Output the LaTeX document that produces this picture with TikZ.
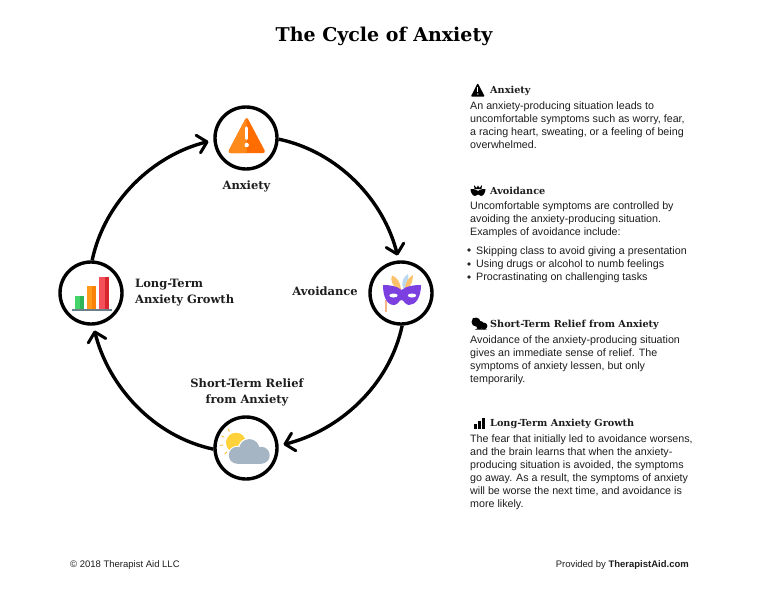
\documentclass[tikz,border=0pt]{standalone}
\usepackage{fontspec}
\setmainfont{Liberation Sans}
\newfontfamily\slabfont[BoldFont={DejaVu Serif Bold}]{DejaVu Serif}
\usetikzlibrary{arrows.meta,calc}
\definecolor{inkc}{HTML}{1E1E1E}
\definecolor{orgA}{HTML}{FF8A1C}
\definecolor{orgB}{HTML}{FF6C00}
\definecolor{maskc}{HTML}{7C3FE0}
\definecolor{sunc}{HTML}{FFD23C}
\definecolor{cloudc}{HTML}{A6B5C4}
\definecolor{featherc}{HTML}{FBC26B}
\definecolor{featherb}{HTML}{BBD8F2}
\definecolor{handlec}{HTML}{F7B58A}
\definecolor{barg}{HTML}{45D36A}
\definecolor{bargd}{HTML}{2FB457}
\definecolor{baro}{HTML}{FF9A1A}
\definecolor{barod}{HTML}{F98208}
\definecolor{barr}{HTML}{F5505A}
\definecolor{barrd}{HTML}{D8262F}
\definecolor{bases}{HTML}{6A7F8A}
\tikzset{
  x=1pt,y=-1pt,
  stage/.style={circle,draw=black,line width=3.4pt,minimum size=62pt,inner sep=0pt,fill=white},
  flow/.style={line width=3.4pt,draw=black,shorten >=5pt,-{Straight Barb[length=9pt,width=18pt,line width=3pt,round]}},
  loopl/.style={font=\slabfont\bfseries\fontsize{11.5}{16}\selectfont,text=inkc,inner sep=0pt,align=center},
  headl/.style={font=\slabfont\bfseries\fontsize{9.7}{13}\selectfont,text=inkc,inner sep=0pt,anchor=west},
  bodyl/.style={font=\fontsize{10.7}{13.1}\selectfont,text=inkc,inner sep=0pt,anchor=north west,align=left},
  footl/.style={font=\fontsize{9.5}{12}\selectfont,text=inkc,inner sep=0pt},
}
\begin{document}
\begin{tikzpicture}
\useasboundingbox (0,0) rectangle (768,594);
\fill[white] (0,0) rectangle (768,594);
\node[font=\slabfont\bfseries\fontsize{19}{22}\selectfont,text=black,inner sep=0pt] (title) at (384,36) {The Cycle of Anxiety};
% stages
\node[stage] (an) at (246,138) {};
\node[stage] (av) at (401,293) {};
\node[stage] (re) at (246,448) {};
\node[stage] (gr) at (91,293) {};
% connectors
\draw[flow] (gr.88) to[out=78,in=194,looseness=.92] (an.184);
\draw[flow] (an.-2) to[out=-12,in=104,looseness=.92] (av.94);
\draw[flow] (av.-88) to[out=-102,in=14,looseness=.92] (re.4);
\draw[flow] (re.182) to[out=168,in=-76,looseness=.92] (gr.-86);
% labels
\node[loopl] (lan) at (246.5,186) {Anxiety};
\node[loopl,anchor=east] (lav) at (358,291) {Avoidance};
\node[loopl] (lre) at (247,392) {Short-Term Relief\\from Anxiety};
\node[loopl,anchor=west,align=left] (lgr) at (135,293) {Long-Term\\Anxiety Growth};
% anxiety icon
\fill[orgB,rounded corners=3pt] (246.7,116.5) -- (227.5,153) -- (266,153) -- cycle;
\begin{scope}
\clip (220,110) rectangle (246.7,160);
\fill[orgA,rounded corners=3pt] (246.7,116.5) -- (227.5,153) -- (266,153) -- cycle;
\end{scope}
\draw[white,line width=3.2pt,line cap=round] (246.7,128) -- (246.7,138.5);
\fill[white] (246.7,145) circle (2.2);
% mask icon
\fill[featherc] (399,290) .. controls (392,286) and (390,280) .. (392,275.5) .. controls (397,277) and (401,283) .. (401,290) -- cycle;
\fill[featherb] (403,288) .. controls (401,283) and (403,277) .. (408,274) .. controls (409,279) and (408,284) .. (405,288) -- cycle;
\fill[featherc] (405,289) .. controls (405,283) and (408,278) .. (413,275) .. controls (413,281) and (411,286) .. (407,289) -- cycle;
\fill[handlec] (384.7,300) rectangle (387.2,312);
\fill[maskc] (383,285) .. controls (390,285) and (397,286) .. (401.5,290) .. controls (406,286) and (414,285) .. (421,285)
  .. controls (421,297) and (416,305) .. (409,305) .. controls (405,305) and (404,300) .. (401.5,300)
  .. controls (399,300) and (398,305) .. (394,305) .. controls (387,305) and (383,297) .. (383,285) -- cycle;
\fill[white] (393.5,295.5) ellipse (4.2 and 2);
\fill[white] (412,295.5) ellipse (4.2 and 2);
% relief icon
\foreach \a in {100,135,170,205,240,65}{\draw[sunc!70!orange,line width=.8pt] ($(236,442.7)+(\a:13)$) -- ($(236,442.7)+(\a:16)$);}
\fill[sunc] (236,442.7) circle (10);
\fill[white] (237.3,455.3) circle (9.5);
\fill[white] (249.3,449.3) circle (11.5);
\fill[cloudc] (237.3,455.3) circle (8.5);
\fill[cloudc] (249.3,449.3) circle (10.2);
\fill[cloudc] (261.2,455.3) circle (8.5);
\fill[cloudc] (237.3,457) rectangle (261.2,463.8);
% growth icon
\fill[barg] (74.5,296) rectangle (84,308.5);
\fill[bargd] (79.5,296) rectangle (84,308.5);
\fill[baro] (86.7,286) rectangle (96.3,308.5);
\fill[barod] (91.5,286) rectangle (96.3,308.5);
\fill[barr] (99.3,276.7) rectangle (109,308.5);
\fill[barrd] (104.5,276.7) rectangle (109,308.5);
\fill[bases] (72,308.5) rectangle (112,310.6);
% side headings
\fill[black,rounded corners=1pt] (477.7,83) -- (470.8,96.6) -- (484.8,96.6) -- cycle;
\fill[white] (477.2,87) rectangle (478.4,92.4);
\fill[white] (477.8,94) circle (.7);
\node[headl] (h1) at (490,91) {Anxiety};
\node[bodyl] (b1) at (470,101.5) {An anxiety-producing situation leads to\\uncomfortable symptoms such as worry, fear,\\a racing heart, sweating, or a feeling of being\\overwhelmed.};
\fill[black] (470.5,189) .. controls (475,189) and (477,190) .. (478,191) .. controls (479,190) and (481,189) .. (485.5,189) .. controls (485.5,193) and (483,196) .. (481,196) .. controls (479,196) and (479,194.5) .. (478,194.5) .. controls (477,194.5) and (477,196) .. (475,196) .. controls (473,196) and (470.5,193) .. (470.5,189) -- cycle;
\fill[black] (474,185) -- (476.5,188) -- (478,185.5) -- (479.5,188) -- (482,185) -- (481.5,189) -- (474.5,189) -- cycle;
\node[headl] (h2) at (490,191) {Avoidance};
\node[bodyl] (b2) at (470,201.5) {Uncomfortable symptoms are controlled by\\avoiding the anxiety-producing situation.\\Examples of avoidance include:};
\foreach \y in {250,264,277}{\fill[black!85] (469,\y) circle (1.9);}
\node[bodyl] (b2a) at (476,246.5) {Skipping class to avoid giving a presentation\\Using drugs or alcohol to numb feelings\\Procrastinating on challenging tasks};
\fill[black] (476,322) circle (4.5);
\fill[black] (480,325) circle (4.2);
\fill[black] (484,326) circle (3.4);
\fill[black] (473.5,319) circle (1.2);
\fill[black] (478,328) -- (487,329.5) -- (475,329.5) -- cycle;
\node[headl] (h3) at (490,325) {Short-Term Relief from Anxiety};
\node[bodyl] (b3) at (470,335.5) {Avoidance of the anxiety-producing situation\\gives an immediate sense of relief. The\\symptoms of anxiety lessen, but only\\temporarily.};
\fill[black] (473.5,423.5) rectangle (476.5,428.5);
\fill[black] (477.5,421) rectangle (480.5,428.5);
\fill[black] (481.5,418) rectangle (484.5,428.5);
\node[headl] (h4) at (490,424) {Long-Term Anxiety Growth};
\node[bodyl] (b4) at (470,434.5) {The fear that initially led to avoidance worsens,\\and the brain learns that when the anxiety-\\producing situation is avoided, the symptoms\\go away. As a result, the symptoms of anxiety\\will be worse the next time, and avoidance is\\more likely.};
% footer
\node[footl,anchor=west] (fl) at (70,565) {© 2018 Therapist Aid LLC};
\node[footl,anchor=east] (fr) at (689,565) {Provided by \textbf{TherapistAid.com}};
\end{tikzpicture}
\end{document}
